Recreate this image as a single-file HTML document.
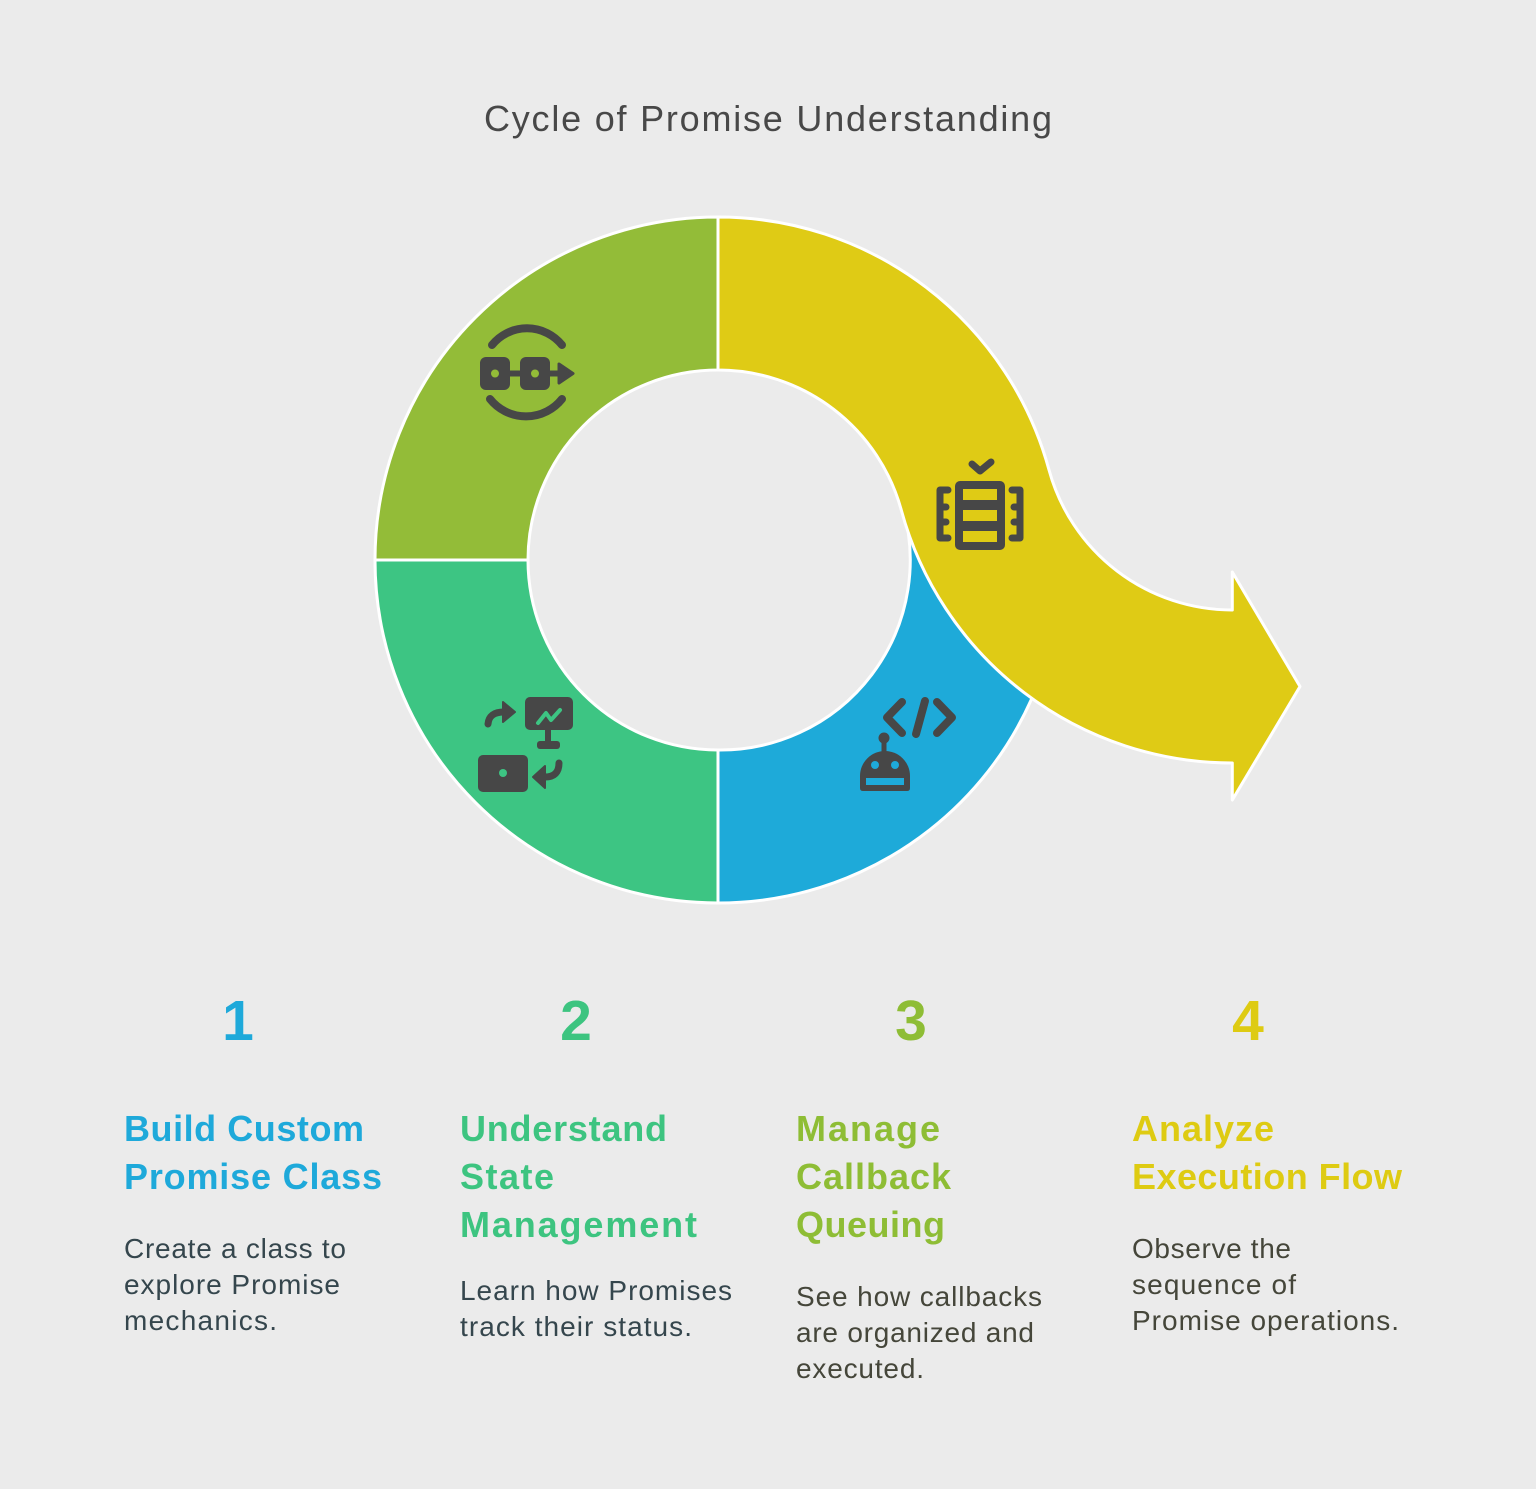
<!DOCTYPE html>
<html>
<head>
<meta charset="utf-8">
<style>
  html, body { margin: 0; padding: 0; background: #EBEBEB; }
  body { width: 1536px; height: 1489px; overflow: hidden; }
  svg { display: block; }
  text { font-family: "Liberation Sans", Arial, sans-serif; }
</style>
</head>
<body>
<svg width="1536" height="1489" viewBox="0 0 1536 1489" xmlns="http://www.w3.org/2000/svg">
  <rect x="0" y="0" width="1536" height="1489" fill="#EBEBEB"/>

  <!-- Title -->
  <text x="484" y="131" font-size="36" fill="#484848" textLength="568" lengthAdjust="spacing">Cycle of Promise Understanding</text>

  <!-- Ring segments -->
  <g stroke="#FFFFFF" stroke-width="3" stroke-linejoin="round">
    <path d="M 375,560 A 343 343 0 0 1 718,217 L 718,370 A 190 190 0 0 0 528,560 Z" fill="#93BC38"/>
    <path d="M 718,903 A 343 343 0 0 1 375,560 L 528,560 A 190 190 0 0 0 718,750 Z" fill="#3DC583"/>
    <path d="M 1050.8,477 A 343 343 0 0 1 718,903 L 718,750 A 190 190 0 0 0 902.4,506 Z" fill="#1EAAD9"/>
    <path d="M 718,217 A 343 343 0 0 1 1049.0,469.9 A 190 190 0 0 0 1232.3,610 L 1232.3,572 L 1300,686.5 L 1232.3,800 L 1232.3,763 A 343 343 0 0 1 901.3,510.1 A 190 190 0 0 0 718,370 Z" fill="#DFCB15"/>
  </g>

  <!-- Icon 1 (green) -->
  <g fill="#474747" stroke="#474747">
    <path d="M 492,345 A 45 45 0 0 1 562,345" fill="none" stroke-width="8" stroke-linecap="round"/>
    <path d="M 490,399 A 46 46 0 0 0 562,399" fill="none" stroke-width="8" stroke-linecap="round"/>
    <rect x="480" y="357" width="30" height="33" rx="6" stroke="none"/>
    <rect x="520" y="357" width="30" height="33" rx="6" stroke="none"/>
    <line x1="508" y1="373.5" x2="522" y2="373.5" stroke-width="6"/>
    <line x1="548" y1="373.5" x2="562" y2="373.5" stroke-width="6"/>
    <polygon points="559,364 573,373.5 559,383" stroke-width="3" stroke-linejoin="round"/>
  </g>
  <circle cx="495" cy="373.5" r="4" fill="#93BC38"/>
  <circle cx="535" cy="373.5" r="4" fill="#93BC38"/>

  <!-- Icon 2 (teal) -->
  <g fill="#474747" stroke="#474747">
    <path d="M 488,724 Q 489,712 504,712" fill="none" stroke-width="7" stroke-linecap="round"/>
    <polygon points="503,702 515,712 503,722" stroke-width="2" stroke-linejoin="round"/>
    <rect x="525" y="697" width="48" height="33" rx="5" stroke="none"/>
    <rect x="545" y="728" width="6" height="15" stroke="none"/>
    <rect x="537" y="741" width="23" height="8" rx="3" stroke="none"/>
    <rect x="478" y="755" width="50" height="37" rx="5" stroke="none"/>
    <path d="M 559,763 Q 559,777 545,777" fill="none" stroke-width="7" stroke-linecap="round"/>
    <polygon points="545,766 533,777 545,788" stroke-width="2" stroke-linejoin="round"/>
  </g>
  <polyline points="538,723 546,713 551,720 560,710" fill="none" stroke="#3DC583" stroke-width="4" stroke-linecap="round" stroke-linejoin="round"/>
  <circle cx="503" cy="773" r="4" fill="#3DC583"/>

  <!-- Icon 3 (blue) -->
  <g fill="none" stroke="#474747" stroke-width="8" stroke-linecap="round" stroke-linejoin="round">
    <polyline points="902,702 887,717.5 902,733"/>
    <line x1="925" y1="701" x2="916" y2="734"/>
    <polyline points="937,702 952,717.5 937,733"/>
    <line x1="884" y1="740" x2="884" y2="752" stroke-width="5"/>
  </g>
  <circle cx="884" cy="738" r="5.5" fill="#474747"/>
  <path d="M 863,791 Q 860,791 860,788 L 860,776 A 25 25 0 0 1 910,776 L 910,788 Q 910,791 907,791 Z" fill="#474747"/>
  <circle cx="875" cy="765" r="4" fill="#1EAAD9"/>
  <circle cx="895" cy="765" r="4" fill="#1EAAD9"/>
  <rect x="866" y="778" width="38" height="7" fill="#1EAAD9"/>

  <!-- Icon 4 (yellow) -->
  <g fill="none" stroke="#474747" stroke-width="7" stroke-linecap="round" stroke-linejoin="round">
    <polyline points="972,464 980,471 991,462"/>
    <path d="M 948,490 L 940,490 L 940,538 L 948,538 M 940,507 L 946,507 M 940,522 L 946,522"/>
    <path d="M 1012,490 L 1020,490 L 1020,538 L 1012,538 M 1020,507 L 1014,507 M 1020,522 L 1014,522"/>
  </g>
  <rect x="955" y="481" width="50" height="69" rx="5" fill="#474747"/>
  <rect x="963" y="489" width="34" height="11" fill="#DFCB15"/>
  <rect x="963" y="510" width="34" height="11" fill="#DFCB15"/>
  <rect x="963" y="531" width="34" height="11" fill="#DFCB15"/>

  <!-- Numbers -->
  <g font-size="57" font-weight="bold" text-anchor="middle">
    <text x="238" y="1040" fill="#1EA9DA">1</text>
    <text x="576" y="1040" fill="#3DC480">2</text>
    <text x="911" y="1040" fill="#8EBD35">3</text>
    <text x="1248" y="1040" fill="#DECB12">4</text>
  </g>

  <!-- Headings -->
  <g font-size="36" font-weight="bold">
    <text x="124" y="1141" fill="#1EA9DA" textLength="240" lengthAdjust="spacing">Build Custom</text>
    <text x="124" y="1189" fill="#1EA9DA" textLength="258" lengthAdjust="spacing">Promise Class</text>

    <text x="460" y="1141" fill="#3DC480" textLength="207" lengthAdjust="spacing">Understand</text>
    <text x="460" y="1189" fill="#3DC480" textLength="94" lengthAdjust="spacing">State</text>
    <text x="460" y="1237" fill="#3DC480" textLength="237" lengthAdjust="spacing">Management</text>

    <text x="796" y="1141" fill="#8EBD35" textLength="144" lengthAdjust="spacing">Manage</text>
    <text x="796" y="1189" fill="#8EBD35" textLength="155" lengthAdjust="spacing">Callback</text>
    <text x="796" y="1237" fill="#8EBD35" textLength="149" lengthAdjust="spacing">Queuing</text>

    <text x="1132" y="1141" fill="#DECB12" textLength="142" lengthAdjust="spacing">Analyze</text>
    <text x="1132" y="1189" fill="#DECB12" textLength="270" lengthAdjust="spacing">Execution Flow</text>
  </g>

  <!-- Descriptions -->
  <g font-size="28">
    <text x="124" y="1258" fill="#35464D" textLength="222" lengthAdjust="spacing">Create a class to</text>
    <text x="124" y="1294" fill="#35464D" textLength="216" lengthAdjust="spacing">explore Promise</text>
    <text x="124" y="1330" fill="#35464D" textLength="153" lengthAdjust="spacing">mechanics.</text>

    <text x="460" y="1300" fill="#35464D" textLength="272" lengthAdjust="spacing">Learn how Promises</text>
    <text x="460" y="1336" fill="#35464D" textLength="232" lengthAdjust="spacing">track their status.</text>

    <text x="796" y="1306" fill="#45463A" textLength="246" lengthAdjust="spacing">See how callbacks</text>
    <text x="796" y="1342" fill="#45463A" textLength="238" lengthAdjust="spacing">are organized and</text>
    <text x="796" y="1378" fill="#45463A" textLength="128" lengthAdjust="spacing">executed.</text>

    <text x="1132" y="1258" fill="#45463A" textLength="159" lengthAdjust="spacing">Observe the</text>
    <text x="1132" y="1294" fill="#45463A" textLength="164" lengthAdjust="spacing">sequence of</text>
    <text x="1132" y="1330" fill="#45463A" textLength="267" lengthAdjust="spacing">Promise operations.</text>
  </g>
</svg>
</body>
</html>
